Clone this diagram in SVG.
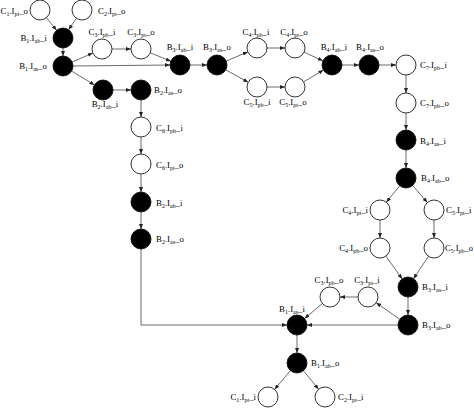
<svg xmlns="http://www.w3.org/2000/svg" width="474" height="408" viewBox="0 0 474 408">
<style>
.w{fill:#fff;stroke:#000;stroke-width:0.8}
.b{fill:#000;stroke:#000;stroke-width:0.8}
.e{stroke:#444;stroke-width:0.8;fill:none;marker-end:url(#ah)}
text{font-family:"Liberation Serif","Times New Roman",serif;font-size:8.8px;fill:#000}
.s{font-size:6px}
.m{text-anchor:middle}
.r{text-anchor:end}
</style>
<defs>
<marker id="ah" markerUnits="userSpaceOnUse" markerWidth="5" markerHeight="4" refX="5" refY="2" orient="auto">
<path d="M0,0 L5,2 L0,4 z" fill="#222"/>
</marker>
</defs>
<rect width="474" height="408" fill="#fff"/>
<g id="connectors">
<line class="e" x1="46.4" y1="17.7" x2="56.6" y2="30.3"/>
<line class="e" x1="76.4" y1="18.3" x2="68.6" y2="29.7"/>
<line class="e" x1="63" y1="48" x2="63" y2="56"/>
<line class="e" x1="72.2" y1="62" x2="92.8" y2="53"/>
<line class="e" x1="112" y1="49" x2="131" y2="49"/>
<line class="e" x1="150.2" y1="52.8" x2="170.8" y2="61.2"/>
<line class="e" x1="73" y1="66" x2="170" y2="65"/>
<line class="e" x1="71.6" y1="71.1" x2="94.4" y2="84.9"/>
<line class="e" x1="113" y1="90" x2="131" y2="90"/>
<line class="e" x1="141" y1="100" x2="141" y2="117"/>
<line class="e" x1="141" y1="137" x2="141" y2="154"/>
<line class="e" x1="141" y1="174" x2="141" y2="192"/>
<line class="e" x1="141" y1="212" x2="141" y2="229"/>
<polyline class="e" points="141,249 141,325 287,325"/>
<line class="e" x1="190" y1="65" x2="207" y2="65"/>
<line class="e" x1="226.2" y1="61.1" x2="247.8" y2="51.9"/>
<line class="e" x1="225.8" y1="69.8" x2="248.2" y2="82.2"/>
<line class="e" x1="267" y1="48" x2="285" y2="48"/>
<line class="e" x1="267" y1="87" x2="285" y2="87"/>
<line class="e" x1="304.1" y1="52.2" x2="322.9" y2="60.8"/>
<line class="e" x1="303.6" y1="81.9" x2="323.4" y2="70.1"/>
<line class="e" x1="342" y1="65" x2="359" y2="65"/>
<line class="e" x1="379" y1="65" x2="396" y2="65"/>
<line class="e" x1="406" y1="75" x2="406" y2="93"/>
<line class="e" x1="406" y1="113" x2="406" y2="130"/>
<line class="e" x1="406" y1="150" x2="406" y2="168"/>
<line class="e" x1="399.7" y1="185.8" x2="386.3" y2="202.2"/>
<line class="e" x1="412.6" y1="185.5" x2="427.4" y2="202.5"/>
<line class="e" x1="380" y1="220" x2="380" y2="238"/>
<line class="e" x1="434" y1="220" x2="434" y2="238"/>
<line class="e" x1="385.8" y1="256.1" x2="402.2" y2="278.9"/>
<line class="e" x1="428.5" y1="256.3" x2="413.5" y2="278.7"/>
<line class="e" x1="408" y1="297" x2="408" y2="315"/>
<line class="e" x1="399.8" y1="319.3" x2="376.2" y2="302.7"/>
<line class="e" x1="358" y1="297" x2="340" y2="297"/>
<line class="e" x1="322.4" y1="303.5" x2="304.6" y2="318.5"/>
<line class="e" x1="398" y1="325" x2="307" y2="325"/>
<line class="e" x1="297" y1="335" x2="297" y2="353"/>
<line class="e" x1="290.5" y1="370.6" x2="274.5" y2="389.4"/>
<line class="e" x1="303.4" y1="370.7" x2="318.6" y2="389.3"/>
</g>
<g id="n1"><circle class="w" cx="40" cy="10" r="10"/><text class="r" x="28" y="14">C<tspan class="s" dy="1.5">1</tspan><tspan dy="-1.5">.I</tspan><tspan class="s" dy="1.5">pt</tspan><tspan dy="-1.5">_o</tspan></text></g>
<g id="n2"><circle class="w" cx="82" cy="10" r="10"/><text x="98" y="14">C<tspan class="s" dy="1.5">2</tspan><tspan dy="-1.5">.I</tspan><tspan class="s" dy="1.5">pt</tspan><tspan dy="-1.5">_o</tspan></text></g>
<g id="n3"><circle class="b" cx="63" cy="38" r="10"/><text class="r" x="47" y="41">B<tspan class="s" dy="1.5">1</tspan><tspan dy="-1.5">.I</tspan><tspan class="s" dy="1.5">ab</tspan><tspan dy="-1.5">_i</tspan></text></g>
<g id="n4"><circle class="b" cx="63" cy="66" r="10"/><text class="r" x="47" y="69">B<tspan class="s" dy="1.5">1</tspan><tspan dy="-1.5">.I</tspan><tspan class="s" dy="1.5">as</tspan><tspan dy="-1.5">_o</tspan></text></g>
<g id="n5"><circle class="w" cx="102" cy="49" r="10"/><text class="m" x="102" y="35">C<tspan class="s" dy="1.5">3</tspan><tspan dy="-1.5">.I</tspan><tspan class="s" dy="1.5">pb</tspan><tspan dy="-1.5">_i</tspan></text></g>
<g id="n6"><circle class="w" cx="141" cy="49" r="10"/><text class="m" x="141" y="35">C<tspan class="s" dy="1.5">3</tspan><tspan dy="-1.5">.I</tspan><tspan class="s" dy="1.5">pt</tspan><tspan dy="-1.5">_o</tspan></text></g>
<g id="n7"><circle class="b" cx="103" cy="90" r="10"/><text class="m" x="105" y="107">B<tspan class="s" dy="1.5">2</tspan><tspan dy="-1.5">.I</tspan><tspan class="s" dy="1.5">ab</tspan><tspan dy="-1.5">_i</tspan></text></g>
<g id="n8"><circle class="b" cx="141" cy="90" r="10"/><text x="154" y="93">B<tspan class="s" dy="1.5">2</tspan><tspan dy="-1.5">.I</tspan><tspan class="s" dy="1.5">as</tspan><tspan dy="-1.5">_o</tspan></text></g>
<g id="n9"><circle class="b" cx="180" cy="65" r="10"/><text class="m" x="180" y="50">B<tspan class="s" dy="1.5">3</tspan><tspan dy="-1.5">.I</tspan><tspan class="s" dy="1.5">ab</tspan><tspan dy="-1.5">_i</tspan></text></g>
<g id="n10"><circle class="b" cx="217" cy="65" r="10"/><text class="m" x="217" y="50">B<tspan class="s" dy="1.5">3</tspan><tspan dy="-1.5">.I</tspan><tspan class="s" dy="1.5">as</tspan><tspan dy="-1.5">_o</tspan></text></g>
<g id="n11"><circle class="w" cx="257" cy="48" r="10"/><text class="m" x="256" y="35">C<tspan class="s" dy="1.5">4</tspan><tspan dy="-1.5">.I</tspan><tspan class="s" dy="1.5">pb</tspan><tspan dy="-1.5">_i</tspan></text></g>
<g id="n12"><circle class="w" cx="295" cy="48" r="10"/><text class="m" x="294" y="35">C<tspan class="s" dy="1.5">4</tspan><tspan dy="-1.5">.I</tspan><tspan class="s" dy="1.5">pt</tspan><tspan dy="-1.5">_o</tspan></text></g>
<g id="n13"><circle class="w" cx="257" cy="87" r="10"/><text class="m" x="257" y="105">C<tspan class="s" dy="1.5">5</tspan><tspan dy="-1.5">.I</tspan><tspan class="s" dy="1.5">pb</tspan><tspan dy="-1.5">_i</tspan></text></g>
<g id="n14"><circle class="w" cx="295" cy="87" r="10"/><text class="m" x="293" y="105">C<tspan class="s" dy="1.5">5</tspan><tspan dy="-1.5">.I</tspan><tspan class="s" dy="1.5">pt</tspan><tspan dy="-1.5">_o</tspan></text></g>
<g id="n15"><circle class="b" cx="332" cy="65" r="10"/><text class="m" x="334" y="50">B<tspan class="s" dy="1.5">4</tspan><tspan dy="-1.5">.I</tspan><tspan class="s" dy="1.5">ab</tspan><tspan dy="-1.5">_i</tspan></text></g>
<g id="n16"><circle class="b" cx="369" cy="65" r="10"/><text class="m" x="370" y="50">B<tspan class="s" dy="1.5">4</tspan><tspan dy="-1.5">.I</tspan><tspan class="s" dy="1.5">as</tspan><tspan dy="-1.5">_o</tspan></text></g>
<g id="n17"><circle class="w" cx="406" cy="65" r="10"/><text x="420" y="68">C<tspan class="s" dy="1.5">7</tspan><tspan dy="-1.5">.I</tspan><tspan class="s" dy="1.5">pb</tspan><tspan dy="-1.5">_i</tspan></text></g>
<g id="n18"><circle class="w" cx="406" cy="103" r="10"/><text x="420" y="106">C<tspan class="s" dy="1.5">7</tspan><tspan dy="-1.5">.I</tspan><tspan class="s" dy="1.5">pb</tspan><tspan dy="-1.5">_o</tspan></text></g>
<g id="n19"><circle class="b" cx="406" cy="140" r="10"/><text x="420" y="144">B<tspan class="s" dy="1.5">4</tspan><tspan dy="-1.5">.I</tspan><tspan class="s" dy="1.5">as</tspan><tspan dy="-1.5">_i</tspan></text></g>
<g id="n20"><circle class="b" cx="406" cy="178" r="10"/><text x="421" y="181">B<tspan class="s" dy="1.5">4</tspan><tspan dy="-1.5">.I</tspan><tspan class="s" dy="1.5">ab</tspan><tspan dy="-1.5">_o</tspan></text></g>
<g id="n21"><circle class="w" cx="380" cy="210" r="10"/><text class="r" x="368" y="213">C<tspan class="s" dy="1.5">4</tspan><tspan dy="-1.5">.I</tspan><tspan class="s" dy="1.5">pt</tspan><tspan dy="-1.5">_i</tspan></text></g>
<g id="n22"><circle class="w" cx="434" cy="210" r="10"/><text x="446" y="213">C<tspan class="s" dy="1.5">5</tspan><tspan dy="-1.5">.I</tspan><tspan class="s" dy="1.5">pt</tspan><tspan dy="-1.5">_i</tspan></text></g>
<g id="n23"><circle class="w" cx="380" cy="248" r="10"/><text class="r" x="368" y="251">C<tspan class="s" dy="1.5">4</tspan><tspan dy="-1.5">.I</tspan><tspan class="s" dy="1.5">pb</tspan><tspan dy="-1.5">_o</tspan></text></g>
<g id="n24"><circle class="w" cx="434" cy="248" r="10"/><text x="445" y="251" textLength="28" lengthAdjust="spacingAndGlyphs">C<tspan class="s" dy="1.5">5</tspan><tspan dy="-1.5">.I</tspan><tspan class="s" dy="1.5">pb</tspan><tspan dy="-1.5">_o</tspan></text></g>
<g id="n25"><circle class="b" cx="408" cy="287" r="10"/><text x="422" y="290">B<tspan class="s" dy="1.5">3</tspan><tspan dy="-1.5">.I</tspan><tspan class="s" dy="1.5">as</tspan><tspan dy="-1.5">_i</tspan></text></g>
<g id="n26"><circle class="b" cx="408" cy="325" r="10"/><text x="422" y="328">B<tspan class="s" dy="1.5">3</tspan><tspan dy="-1.5">.I</tspan><tspan class="s" dy="1.5">ab</tspan><tspan dy="-1.5">_o</tspan></text></g>
<g id="n27"><circle class="w" cx="368" cy="297" r="10"/><text class="m" x="367" y="283">C<tspan class="s" dy="1.5">3</tspan><tspan dy="-1.5">.I</tspan><tspan class="s" dy="1.5">pt</tspan><tspan dy="-1.5">_i</tspan></text></g>
<g id="n28"><circle class="w" cx="330" cy="297" r="10"/><text class="m" x="329" y="283">C<tspan class="s" dy="1.5">3</tspan><tspan dy="-1.5">.I</tspan><tspan class="s" dy="1.5">pb</tspan><tspan dy="-1.5">_o</tspan></text></g>
<g id="n29"><circle class="b" cx="297" cy="325" r="10"/><text class="m" x="292" y="312">B<tspan class="s" dy="1.5">1</tspan><tspan dy="-1.5">.I</tspan><tspan class="s" dy="1.5">as</tspan><tspan dy="-1.5">_i</tspan></text></g>
<g id="n30"><circle class="b" cx="297" cy="363" r="10"/><text x="311" y="366">B<tspan class="s" dy="1.5">1</tspan><tspan dy="-1.5">.I</tspan><tspan class="s" dy="1.5">ab</tspan><tspan dy="-1.5">_o</tspan></text></g>
<g id="n31"><circle class="w" cx="268" cy="397" r="10"/><text class="r" x="256" y="400">C<tspan class="s" dy="1.5">1</tspan><tspan dy="-1.5">.I</tspan><tspan class="s" dy="1.5">pt</tspan><tspan dy="-1.5">_i</tspan></text></g>
<g id="n32"><circle class="w" cx="325" cy="397" r="10"/><text x="338" y="400">C<tspan class="s" dy="1.5">2</tspan><tspan dy="-1.5">.I</tspan><tspan class="s" dy="1.5">pt</tspan><tspan dy="-1.5">_i</tspan></text></g>
<g id="n33"><circle class="w" cx="141" cy="127" r="10"/><text x="156" y="131">C<tspan class="s" dy="1.5">6</tspan><tspan dy="-1.5">.I</tspan><tspan class="s" dy="1.5">pb</tspan><tspan dy="-1.5">_i</tspan></text></g>
<g id="n34"><circle class="w" cx="141" cy="164" r="10"/><text x="156" y="168">C<tspan class="s" dy="1.5">6</tspan><tspan dy="-1.5">.I</tspan><tspan class="s" dy="1.5">pt</tspan><tspan dy="-1.5">_o</tspan></text></g>
<g id="n35"><circle class="b" cx="141" cy="202" r="10"/><text x="156" y="206">B<tspan class="s" dy="1.5">2</tspan><tspan dy="-1.5">.I</tspan><tspan class="s" dy="1.5">ab</tspan><tspan dy="-1.5">_i</tspan></text></g>
<g id="n36"><circle class="b" cx="141" cy="239" r="10"/><text x="156" y="242">B<tspan class="s" dy="1.5">2</tspan><tspan dy="-1.5">.I</tspan><tspan class="s" dy="1.5">as</tspan><tspan dy="-1.5">_o</tspan></text></g>
</svg>
